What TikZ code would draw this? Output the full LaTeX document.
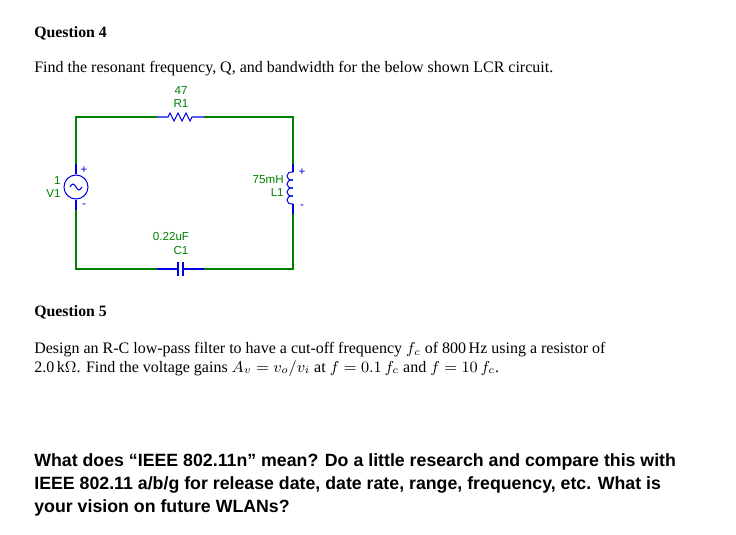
\documentclass[tikz,border=0pt]{standalone}
\usepackage{fontspec}
\setmainfont{Liberation Serif}
\newfontfamily\labelfont{Liberation Sans}
\usetikzlibrary{positioning,calc}
\definecolor{wire}{RGB}{0,128,0}
\definecolor{part}{RGB}{0,0,230}
\begin{document}
\begin{tikzpicture}[
    x=0.02cm, y=-0.02cm,
    txt/.style={anchor=west, inner sep=0pt, font=\fontsize{9.1}{10.6}\selectfont},
    head/.style={txt, font=\fontsize{9}{11}\selectfont\bfseries},
    big/.style={anchor=north west, inner sep=0pt, align=left, font=\labelfont\bfseries\fontsize{10.1}{13.2}\selectfont},
    lbl/.style={inner sep=0pt, text=wire, font=\labelfont\fontsize{6.6}{7}\selectfont},
    wire/.style={draw=wire, line width=0.6pt},
    part/.style={draw=part, line width=0.6pt}
]
    \useasboundingbox (0,0) rectangle (736,534);
    % text
    \node[head] (q4) at (34,33) {Question 4};
    \node[txt] (t4) at (34,69) {Find the resonant frequency, Q, and bandwidth for the below shown LCR circuit.};
    \node[head] (q5) at (34,312) {Question 5};
    \node[txt, anchor=north west, align=left] (t5) at (34,342) {Design an R-C low-pass filter to have a cut-off frequency $f_c$ of 800\,Hz using a resistor of\\2.0\,k$\Omega$. Find the voltage gains $A_v=v_o/v_i$ at $f=0.1\,f_c$ and $f=10\,f_c$.};
    \node[big] (q6) at (34,453) {What does \textquotedblleft IEEE 802.11n\textquotedblright{} mean? Do a little research and compare this with\\IEEE 802.11 a/b/g for release date, date rate, range, frequency, etc. What is\\your vision on future WLANs?};
    % corners
    \coordinate (tl) at (76,117);
    \coordinate (tr) at (293,117);
    \coordinate (bl) at (76,269);
    \coordinate (br) at (293,269);
    % source V1
    \node[circle, part, minimum size=0.48cm, inner sep=0pt] (v1) at (76,187) {};
    \draw[part] ($(v1)+(-6,0)$) sin ($(v1)+(-3,-3)$) cos ($(v1)+(0,0)$) sin ($(v1)+(3,3)$) cos ($(v1)+(6,0)$);
    \draw[part] (v1.north) -- ++(0,-10) coordinate (v1t);
    \draw[part] (v1.south) -- ++(0,10) coordinate (v1b);
    \node[lbl, text=part] at (84,170) {+};
    \node[lbl, text=part] at (84,206) {-};
    \node[lbl, anchor=east] at (61,181) {1};
    \node[lbl, anchor=east] at (61,194) {V1};
    % resistor R1
    \coordinate (r1a) at (157,117);
    \coordinate (r1b) at (204,117);
    \draw[part] (r1a) -- (168,117) -- (170,113) -- (174,121) -- (178,113) -- (182,121) -- (186,113) -- (190,121) -- (192,117) -- (r1b);
    \node[lbl] at (181,91) {47};
    \node[lbl] at (181,104) {R1};
    % inductor L1
    \coordinate (l1a) at (293,164);
    \coordinate (l1b) at (293,214);
    \draw[part] (l1a) -- (293,172);
    \foreach \k in {0,1,2,3}
      \draw[part] (293,{172+8*\k}) .. controls (285,{171+8*\k}) and (285,{181+8*\k}) .. (293,{180+8*\k});
    \draw[part] (293,204) -- (l1b);
    \node[lbl, text=part] at (302,172) {+};
    \node[lbl, text=part] at (302,207) {-};
    \node[lbl, anchor=east] at (284,180) {75mH};
    \node[lbl, anchor=east] at (284,193) {L1};
    % capacitor C1
    \coordinate (c1a) at (157,269);
    \coordinate (c1b) at (204,269);
    \draw[part] (c1a) -- (178,269) (178,262) -- (178,276) (183,262) -- (183,276) (183,269) -- (c1b);
    \node[lbl] at (171,237) {0.22uF};
    \node[lbl] at (181,251) {C1};
    % wires
    \draw[wire] (v1t) -- (tl) -- (r1a);
    \draw[wire] (r1b) -- (tr) -- (l1a);
    \draw[wire] (l1b) -- (br) -- (c1b);
    \draw[wire] (c1a) -- (bl) -- (v1b);
\end{tikzpicture}
\end{document}
